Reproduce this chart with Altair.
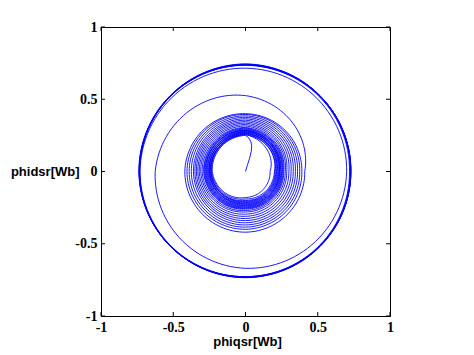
import altair as alt
import numpy as np
import pandas as pd

# ---- data ----
# initial hook from the origin up to the first loop
hook_x = [0.0, 0.012, 0.028, 0.040, 0.043, 0.036, 0.020, 0.0]
hook_y = [0.0, 0.040, 0.090, 0.140, 0.180, 0.210, 0.235, 0.25]

# trajectory crossing distances from the origin for each turn
# (top, left, bottom, right crossings, going counter-clockwise)
top_r = [0.25, 0.255, 0.26, 0.255, 0.265, 0.27, 0.265, 0.275, 0.28, 0.275, 0.285, 0.29, 0.285, 0.295, 0.30, 0.305,
         0.315, 0.325, 0.335, 0.345, 0.355, 0.365, 0.375, 0.385, 0.395, 0.40,
         0.525,
         0.715, 0.735, 0.74, 0.742, 0.738, 0.745, 0.74, 0.737]
left_r = [0.23, 0.235, 0.24, 0.245, 0.24, 0.25, 0.255, 0.25, 0.26, 0.265, 0.27, 0.275, 0.28, 0.285, 0.29, 0.30,
          0.31, 0.32, 0.33, 0.34, 0.35, 0.36, 0.375, 0.39, 0.405, 0.42,
          0.625,
          0.73, 0.735, 0.732, 0.738, 0.735, 0.733, 0.736, 0.734]
bottom_r = [0.18, 0.19, 0.20, 0.205, 0.21, 0.215, 0.22, 0.225, 0.23, 0.235, 0.24, 0.245, 0.25, 0.255, 0.26, 0.27,
            0.28, 0.295, 0.31, 0.325, 0.34, 0.355, 0.37, 0.385, 0.40, 0.42,
            0.67,
            0.728, 0.73, 0.733, 0.728, 0.732, 0.735, 0.73, 0.732]
right_r = [0.17, 0.20, 0.205, 0.21, 0.215, 0.22, 0.225, 0.23, 0.235, 0.235, 0.24, 0.245, 0.25, 0.255, 0.26, 0.265,
           0.275, 0.285, 0.30, 0.315, 0.33, 0.345, 0.36, 0.375, 0.39, 0.41,
           0.70,
           0.72, 0.725, 0.728, 0.73, 0.726, 0.729, 0.727, 0.728]
end_top_r = 0.74

tick_values = [-1, -0.5, 0, 0.5, 1]
x_title = "phiqsr[Wb]"
y_title = "phidsr[Wb]"

# ---- build the trajectory table ----
quarter_r = []
for t, l, b, r in zip(top_r, left_r, bottom_r, right_r):
    quarter_r += [t, l, b, r]
quarter_r.append(end_top_r)
quarter_r = np.array(quarter_r)
q_angle = np.pi / 2 * (1 + np.arange(len(quarter_r)))
steps = 30
theta = np.linspace(q_angle[0], q_angle[-1], (len(quarter_r) - 1) * steps + 1)
rad = np.interp(theta, q_angle, quarter_r)
xs = np.concatenate([hook_x, rad * np.cos(theta)])
ys = np.concatenate([hook_y, rad * np.sin(theta)])
df = pd.DataFrame({"x": xs, "y": ys, "i": np.arange(len(xs))})

ticks_x = pd.DataFrame({"x": tick_values})
ticks_y = pd.DataFrame({"y": tick_values})

W = 289
H = 289
TL = 4

label_expr = "datum.value == 0 ? '0' : (datum.value < 0 ? '-' : '') + format(abs(datum.value), '~g')"
scale = alt.Scale(domain=[-1, 1], nice=False, zero=False)

common_axis = dict(
    values=tick_values, labelExpr=label_expr, ticks=False, tickSize=0, grid=False,
    domain=True, domainColor="black", domainWidth=1,
    labelFont="Liberation Serif", labelFontWeight="bold", labelFontSize=14, labelColor="black",
    labelPadding=4, labelFlush=False, labelOverlap=False,
    titleFont="Liberation Sans", titleFontSize=13, titleFontWeight="bold", titleColor="black",
)

x_axis = alt.Axis(title=x_title, titleBaseline="alphabetic", titleAlign="center",
                  titleX=146, titleY=29, **common_axis)
y_axis = alt.Axis(title=y_title, titleAngle=0, titleAlign="right", titleBaseline="middle",
                  titleX=-22, titleY=144, **common_axis)

line = alt.Chart(df).mark_line(color="#0000ff", strokeWidth=0.9, clip=True).encode(
    x=alt.X("x:Q", scale=scale, axis=x_axis),
    y=alt.Y("y:Q", scale=scale, axis=y_axis),
    order="i:Q",
)

tick_bottom = alt.Chart(ticks_x).mark_rule(color="black", strokeWidth=1).encode(
    x=alt.X("x:Q", scale=scale, axis=x_axis), y=alt.value(H), y2=alt.value(H - TL))
tick_top = alt.Chart(ticks_x).mark_rule(color="black", strokeWidth=1).encode(
    x=alt.X("x:Q", scale=scale, axis=x_axis), y=alt.value(0), y2=alt.value(TL))
tick_left = alt.Chart(ticks_y).mark_rule(color="black", strokeWidth=1).encode(
    y=alt.Y("y:Q", scale=scale, axis=y_axis), x=alt.value(0), x2=alt.value(TL))
tick_right = alt.Chart(ticks_y).mark_rule(color="black", strokeWidth=1).encode(
    y=alt.Y("y:Q", scale=scale, axis=y_axis), x=alt.value(W), x2=alt.value(W - TL))

chart = alt.layer(line, tick_bottom, tick_top, tick_left, tick_right).properties(
    width=W, height=H,
    padding={"left": 101, "top": 27, "right": 84, "bottom": 39},
    autosize=alt.AutoSizeParams(type="none"),
    background="white",
).configure_view(stroke="black", strokeWidth=1)

chart.save("out.html", embed_options={"renderer": "svg", "actions": False})
